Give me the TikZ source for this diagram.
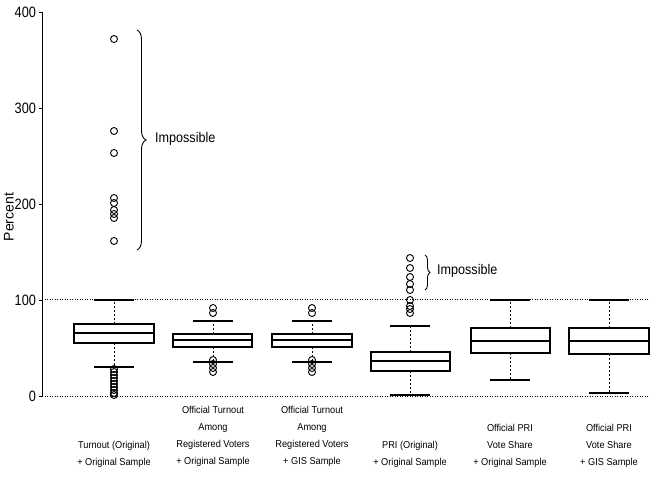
\documentclass[tikz,border=0pt]{standalone}
\usepackage{fontspec}
\setmainfont{Liberation Sans}
\usetikzlibrary{decorations.pathreplacing}
\begin{document}
\begin{tikzpicture}[x=1pt,y=-1pt,
  bx/.style={draw,line width=1.3pt},
  md/.style={line width=1.5pt},
  wh/.style={dashed,line width=0.6pt,dash pattern=on 2pt off 2pt},
  cp/.style={line width=1.3pt},
  ol/.style={draw,line width=0.9pt,circle,minimum size=7pt,inner sep=0pt},
  ref/.style={line width=1pt,dash pattern=on 1pt off 1.5pt},
  lab/.style={font=\fontsize{10}{17}\selectfont,align=center,anchor=north,xscale=0.92},
  tk/.style={font=\fontsize{15}{15}\selectfont,anchor=east,xscale=0.85}]
\useasboundingbox (0,0) rectangle (650,481);
% axis
\draw[line width=0.8pt] (42,12) coordinate (at) -- (42,396) coordinate (ab);
\foreach \v/\y in {400/12,300/108,200/204,100/300,0/396}{
  \draw[line width=0.8pt] (39,\y) -- (42,\y);
  \node[tk] (t\v) at (39,\y) {\v};}
\node[rotate=90,font=\fontsize{14}{14}\selectfont] (pc) at (9,217) {Percent};
\draw[ref] (42,299) -- (650,299);
\draw[ref] (42,396) -- (650,396);
\newcommand{\bp}[8]{%
  \draw[wh] (#1,#4) -- (#1,#7);
  \draw[wh] (#1,#6) -- (#1,#8);
  \draw[cp] ({#1-20},#7) -- ({#1+20},#7);
  \draw[cp] ({#1-20},#8) -- ({#1+20},#8);
  \draw[bx,fill=white] (#2,#4) rectangle (#3,#6);
  \draw[md] (#2,#5) -- (#3,#5);}
\bp{114}{74}{154}{324}{333}{343}{300}{367}
\bp{213}{173}{252}{334}{340}{347}{321}{362}
\bp{312}{272}{352}{334}{340}{347}{321}{362}
\bp{410}{371}{450}{352}{361}{371}{326}{395}
\bp{510}{471}{550}{328}{341}{353}{300}{380}
\bp{609}{569}{649}{328}{341}{354}{300}{393}
\foreach \y in {39,131,153,198,203,210,214,218,241,369,372,375,378,381,384,387,390,393,395}
  \node[ol] at (114,\y) {};
\foreach \x in {213,312}{
  \foreach \y in {308,313,360,364,368,372}
    \node[ol] at (\x,\y) {};}
\foreach \y in {258,268,277,284,290,300,306,309,313}
  \node[ol] at (410,\y) {};
\coordinate (b1t) at (137,30); \coordinate (b1b) at (137,250);
\draw[decorate,decoration={brace,amplitude=9pt},line width=0.9pt] (b1t) -- (b1b);
\node[anchor=west,font=\fontsize{14}{14}\selectfont,xscale=0.9] (imp1) at (152,139) {Impossible};
\coordinate (b2t) at (425,255); \coordinate (b2b) at (425,290);
\draw[decorate,decoration={brace,amplitude=5pt},line width=0.9pt] (b2t) -- (b2b);
\node[anchor=west,font=\fontsize{14}{14}\selectfont,xscale=0.9] (imp2) at (434,271) {Impossible};
\node[lab] (l1) at (114,438) {Turnout (Original)\\+ Original Sample};
\node[lab] (l2) at (213,403) {Official Turnout\\Among\\Registered Voters\\+ Original Sample};
\node[lab] (l3) at (312,403) {Official Turnout\\Among\\Registered Voters\\+ GIS Sample};
\node[lab] (l4) at (410,438) {PRI (Original)\\+ Original Sample};
\node[lab] (l5) at (510,421) {Official PRI\\Vote Share\\+ Original Sample};
\node[lab] (l6) at (609,421) {Official PRI\\Vote Share\\+ GIS Sample};
\end{tikzpicture}
\end{document}
